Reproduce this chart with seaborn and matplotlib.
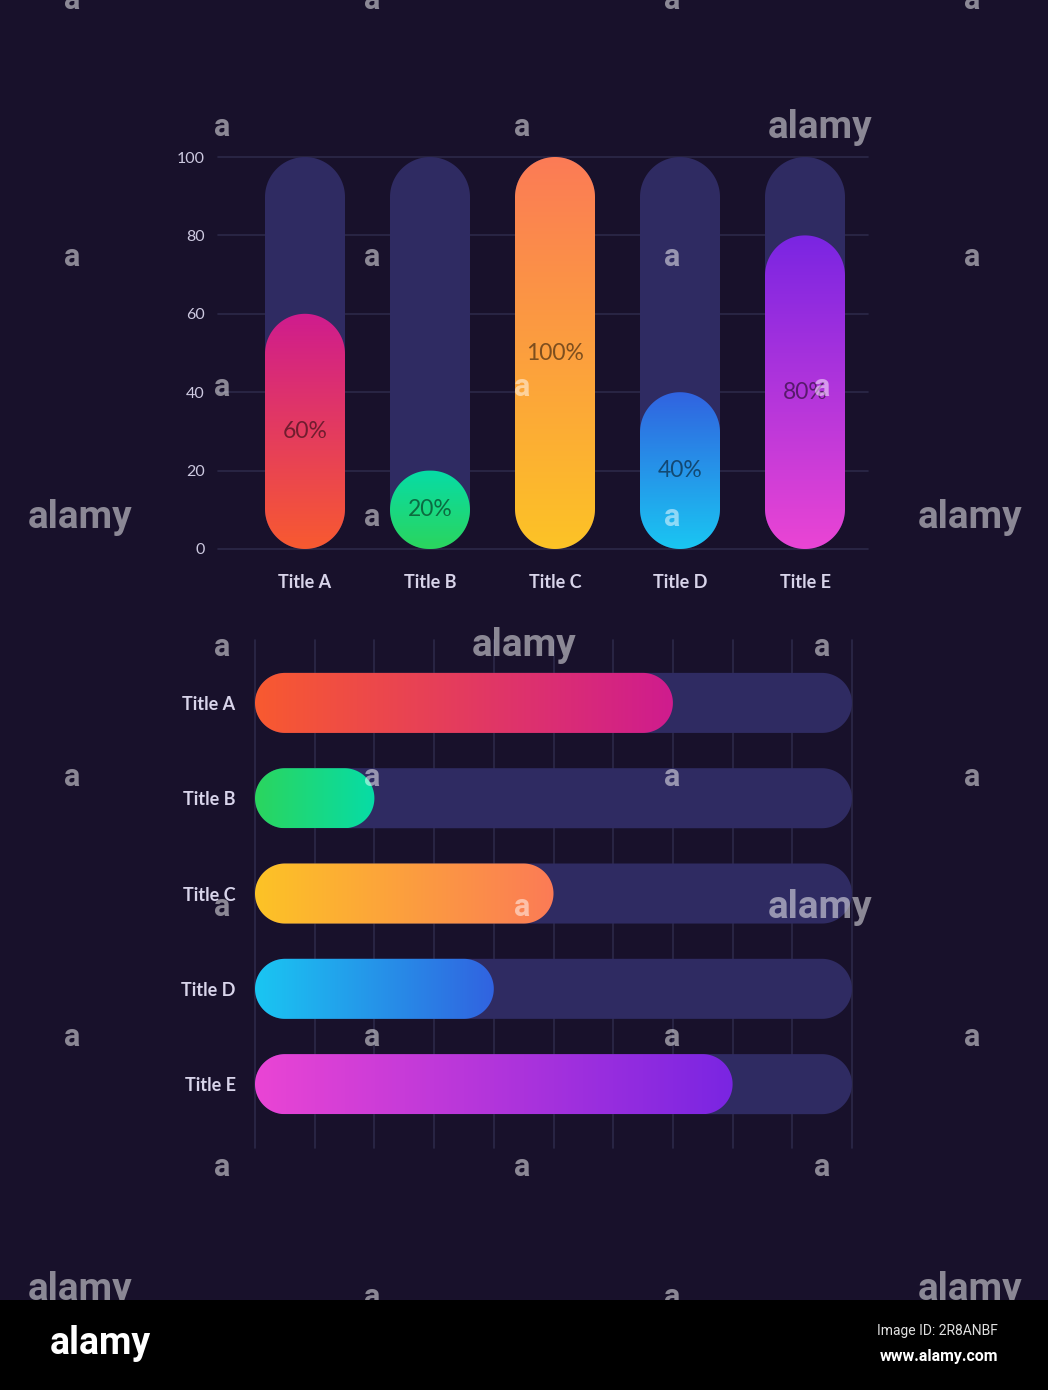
import numpy as np
import pandas as pd
import matplotlib
matplotlib.use("Agg")
import matplotlib.pyplot as plt
import seaborn as sns
from matplotlib.patches import Polygon, Rectangle
from matplotlib.colors import LinearSegmentedColormap

# ---------------- data ----------------
categories = ["Title A", "Title B", "Title C", "Title D", "Title E"]
col_values = [60, 20, 100, 40, 80]
col_labels = ["60%", "20%", "100%", "40%", "80%"]
row_values = [70, 20, 50, 40, 80]
y_ticks = [0, 20, 40, 60, 80, 100]
x_ticks = list(range(0, 101, 10))
grad_low = ["#f85a30", "#2bd55e", "#fdc326", "#1ac6f2", "#ea45d4"]
grad_high = ["#cf1c8e", "#07dca6", "#fb7b56", "#3163e0", "#7a25e2"]

BG = "#18112b"
TRACK = "#2f2b62"
GRID = "#2c2849"
TXT = "#d8d4ea"
TICK = "#cdc9e0"

sns.set_theme(style="dark", rc={
    "axes.facecolor": BG, "figure.facecolor": BG, "savefig.facecolor": BG,
    "axes.edgecolor": BG, "text.color": TXT,
    "xtick.color": TXT, "ytick.color": TICK,
})
plt.rcParams["font.family"] = ["Lato", "DejaVu Sans"]

fig = plt.figure(figsize=(10.48, 13.90), dpi=100)
W, H = 1048, 1390


def pill_pts(ax, x0, y0, w, h, n=40):
    xl, yl = ax.get_xlim(), ax.get_ylim()
    xpp = abs(xl[1] - xl[0]) / ax.bbox.width
    ypp = abs(yl[1] - yl[0]) / ax.bbox.height
    r = min(w / xpp, h / ypp) / 2
    rx, ry = r * xpp, r * ypp
    cx0, cx1 = x0 + rx, x0 + w - rx
    cy0, cy1 = y0 + ry, y0 + h - ry
    segs = []
    for cx, cy, a0 in [(cx1, cy1, 0), (cx0, cy1, 90), (cx0, cy0, 180), (cx1, cy0, 270)]:
        t = np.radians(np.linspace(a0, a0 + 90, n))
        segs.append(np.column_stack([cx + rx * np.cos(t), cy + ry * np.sin(t)]))
    return np.vstack(segs)


def draw_pills(ax, n_track, vertical):
    geo = [(p.get_x(), p.get_y(), p.get_width(), p.get_height()) for p in ax.patches]
    for p in list(ax.patches):
        p.remove()
    for i, (x0, y0, w, h) in enumerate(geo):
        pts = pill_pts(ax, x0, y0, w, h)
        if i < n_track:
            ax.add_patch(Polygon(pts, closed=True, facecolor=TRACK, edgecolor="none", zorder=2))
        else:
            k = i - n_track
            cmap = LinearSegmentedColormap.from_list("g%d" % k, [grad_low[k], grad_high[k]])
            clip = Polygon(pts, closed=True, transform=ax.transData)
            grad = np.linspace(0, 1, 256)
            arr = grad.reshape(-1, 1) if vertical else grad.reshape(1, -1)
            im = ax.imshow(arr, extent=(x0, x0 + w, y0, y0 + h), origin="lower",
                           cmap=cmap, aspect="auto", zorder=3, interpolation="bilinear")
            im.set_clip_path(clip)
    return geo


# ---------------- top: vertical bars ----------------
ax1 = fig.add_axes([217.5 / W, (H - 549) / H, 650 / W, 392 / H])
df1 = pd.DataFrame({"cat": categories, "val": col_values, "full": [100] * len(categories)})
sns.barplot(data=df1, x="cat", y="full", ax=ax1, color=TRACK, width=0.64, errorbar=None)
n1 = len(ax1.patches)
sns.barplot(data=df1, x="cat", y="val", ax=ax1, color=grad_low[0], width=0.64, errorbar=None)
ax1.set_xlim(-0.7, 4.5)
ax1.set_ylim(0, 100)
ax1.set_autoscale_on(False)
geo1 = draw_pills(ax1, n1, vertical=True)
for k, lab in enumerate(col_labels):
    x0, y0, w, h = geo1[n1 + k]
    ax1.text(x0 + w / 2, y0 + h / 2, lab, ha="center", va="center", fontsize=16.5,
             color="black", alpha=0.5, zorder=5)
ax1.set_yticks(y_ticks)
ax1.yaxis.grid(True, color=GRID, lw=1.2)
ax1.xaxis.grid(False)
ax1.set_axisbelow(True)
for gl in ax1.get_ygridlines():
    gl.set_clip_on(False)
ax1.tick_params(axis="y", length=0, pad=9, labelsize=11.5, labelcolor=TICK)
ax1.tick_params(axis="x", length=0, pad=18, labelsize=13, labelcolor=TXT)
for t in ax1.get_xticklabels():
    t.set_fontweight("bold")
ax1.set_xlabel("")
ax1.set_ylabel("")
for s in ax1.spines.values():
    s.set_visible(False)

# ---------------- bottom: horizontal bars ----------------
ax2 = fig.add_axes([255 / W, (H - 1148) / H, 597 / W, 508 / H])
df2 = pd.DataFrame({"cat": categories, "val": row_values, "full": [100] * len(categories)})
sns.barplot(data=df2, y="cat", x="full", orient="h", ax=ax2, color=TRACK, width=0.63, errorbar=None)
n2 = len(ax2.patches)
sns.barplot(data=df2, y="cat", x="val", orient="h", ax=ax2, color=grad_low[0], width=0.63, errorbar=None)
ax2.set_xlim(0, 100)
ax2.set_ylim(4.67, -0.66)
ax2.set_autoscale_on(False)
draw_pills(ax2, n2, vertical=False)
ax2.set_xticks(x_ticks)
ax2.xaxis.grid(True, color=GRID, lw=1.2)
ax2.yaxis.grid(False)
ax2.set_axisbelow(True)
for gl in ax2.get_xgridlines():
    gl.set_clip_on(False)
ax2.tick_params(axis="x", length=0, labelbottom=False)
ax2.tick_params(axis="y", length=0, pad=14, labelsize=13, labelcolor=TXT)
for t in ax2.get_yticklabels():
    t.set_fontweight("bold")
ax2.set_xlabel("")
ax2.set_ylabel("")
for s in ax2.spines.values():
    s.set_visible(False)

# ---------------- watermark & footer strip ----------------
WM = ["Roboto", "DejaVu Sans"]
wm_a = [(72, 0), (372, 0), (672, 0), (972, 0),
        (222, 127), (522, 127),
        (72, 257), (372, 257), (672, 257), (972, 257),
        (222, 387), (522, 387), (822, 387),
        (372, 517), (672, 517),
        (222, 647), (822, 647),
        (72, 777), (372, 777), (672, 777), (972, 777),
        (222, 907), (522, 907),
        (72, 1037), (372, 1037), (672, 1037), (972, 1037),
        (222, 1167), (522, 1167), (822, 1167),
        (372, 1297), (672, 1297)]
for (px, py) in wm_a:
    fig.text(px / W, 1 - py / H, "a", ha="center", va="center", fontsize=22,
             fontweight="bold", family=WM, color="white", alpha=0.5, zorder=20)
wm_big = [(820, 128), (80, 517), (970, 517), (524, 645), (820, 908), (80, 1290), (970, 1290)]
for (px, py) in wm_big:
    fig.text(px / W, 1 - py / H, "alamy", ha="center", va="center", fontsize=28,
             fontweight="bold", family=WM, color="white", alpha=0.5, zorder=20)

fig.add_artist(Rectangle((0, 0), 1, 90 / H, transform=fig.transFigure,
                         facecolor="black", edgecolor="none", zorder=30))
fig.text(100 / W, 1 - 1343 / H, "alamy", ha="center", va="center", fontsize=27,
         fontweight="bold", family=WM, color="white", zorder=31)
fig.text(998 / W, 1 - 1331 / H, "Image ID: 2R8ANBF", ha="right", va="center", fontsize=10,
         family=WM, color="#e0e0e0", zorder=31)
fig.text(998 / W, 1 - 1356 / H, "www.alamy.com", ha="right", va="center", fontsize=11.5,
         fontweight="bold", family=WM, color="white", zorder=31)

fig.savefig("out.png", dpi=100, facecolor=BG)
